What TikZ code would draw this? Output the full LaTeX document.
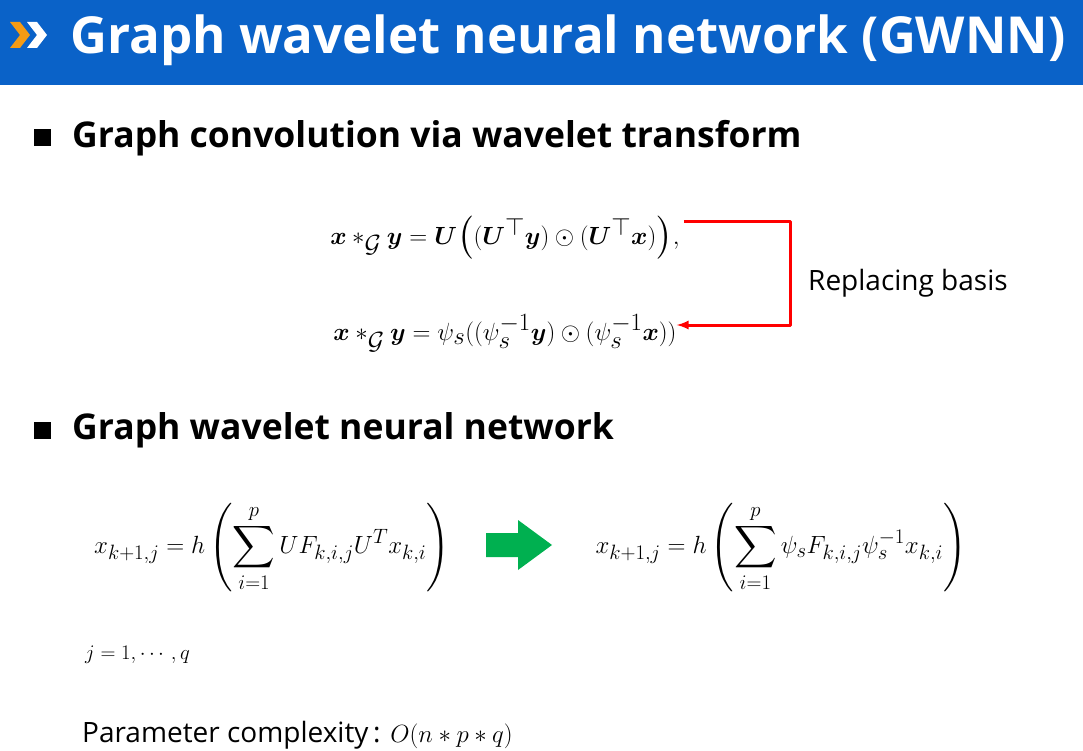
\documentclass[tikz,border=0pt]{standalone}
\usepackage{amsmath}
\usepackage{amssymb}
\usepackage{bm}
\usepackage{fontspec}
\setmainfont{Open Sans}
\usetikzlibrary{arrows,shapes,positioning}
\definecolor{barblue}{RGB}{10,98,200}
\definecolor{chevron}{RGB}{245,155,20}
\definecolor{okgreen}{RGB}{0,176,80}
\tikzstyle{bullet}=[fill=black,minimum size=17pt,inner sep=0pt]
\tikzstyle{head}=[anchor=west,inner sep=0pt,font=\fontsize{35.5}{40}\selectfont\bfseries]
\tikzstyle{eq}=[inner sep=0pt,font=\fontsize{36}{40}\selectfont]
\tikzstyle{sumeq}=[inner sep=0pt,font=\fontsize{29.5}{34}\selectfont]
\tikzstyle{plain}=[anchor=west,inner sep=0pt,font=\fontsize{28}{32}\selectfont]

\begin{document}
\begin{tikzpicture}[>=latex,line join=bevel,x=1pt,y=-1pt]
	  \useasboundingbox (0,0) rectangle (1083,751);
	  \fill[barblue] (0,0) rectangle (1083,85);
	  \fill[chevron] (10,22) -- (20,22) -- (30,35) -- (20,48) -- (10,48) -- (20,35) -- cycle;
	  \fill[white] (27,22) -- (37,22) -- (47,35) -- (37,48) -- (27,48) -- (37,35) -- cycle;
	  \node (title) at (70,40) [anchor=west,inner sep=0pt,text=white,font=\fontsize{51}{56}\selectfont\bfseries] {Graph wavelet neural network (GWNN)};
	  \node (b1) at (42,138) [bullet] {};
	  \node (conv) at (72,138) [head] {Graph convolution via wavelet transform};
	  \node (eqa) at (505,238) [eq] {$\bm{x} *_{\mathcal{G}} \bm{y} = \bm{U}\big((\bm{U}^{\top}\bm{y}) \odot (\bm{U}^{\top}\bm{x})\big),$};
	  \node (eqb) at (505,333) [eq] {$\bm{x} *_{\mathcal{G}} \bm{y} = \psi_s((\psi_s^{-1}\bm{y}) \odot (\psi_s^{-1}\bm{x}))$};
	  \coordinate (r1) at (790,222);
	  \coordinate (r2) at (790,325);
	  \draw [red,line width=3pt,->] (eqa.east |- r1) ++(4,0) -- (r1) -- (r2) -- (eqb.east |- r2);
	  \node (basis) at (808,283) [plain] {Replacing basis};
	  \node (b2) at (42,430) [bullet] {};
	  \node (gwnn) at (72,430) [head] {Graph wavelet neural network};
	  \node (left) at (272,548) [sumeq] {$x_{k+1,j} = h\left(\displaystyle\sum_{i=1}^{p} UF_{k,i,j}U^{T}x_{k,i}\right)$};
	  \node (right) at (781,548) [sumeq] {$x_{k+1,j} = h\left(\displaystyle\sum_{i=1}^{p} \psi_s F_{k,i,j}\psi_s^{-1}x_{k,i}\right)$};
	  \fill[okgreen] (486,533) -- (518,533) -- (518,520) -- (552,545) -- (518,570) -- (518,557) -- (486,557) -- cycle;
	  \node (jidx) at (85,655) [anchor=west,inner sep=0pt,font=\fontsize{22}{26}\selectfont] {$j = 1,\cdots,q$};
	  \node (cplx) at (82,735) [plain] {Parameter complexity\,: {\fontsize{32}{36}\selectfont$O(n*p*q)$}};
\end{tikzpicture}
\end{document}
